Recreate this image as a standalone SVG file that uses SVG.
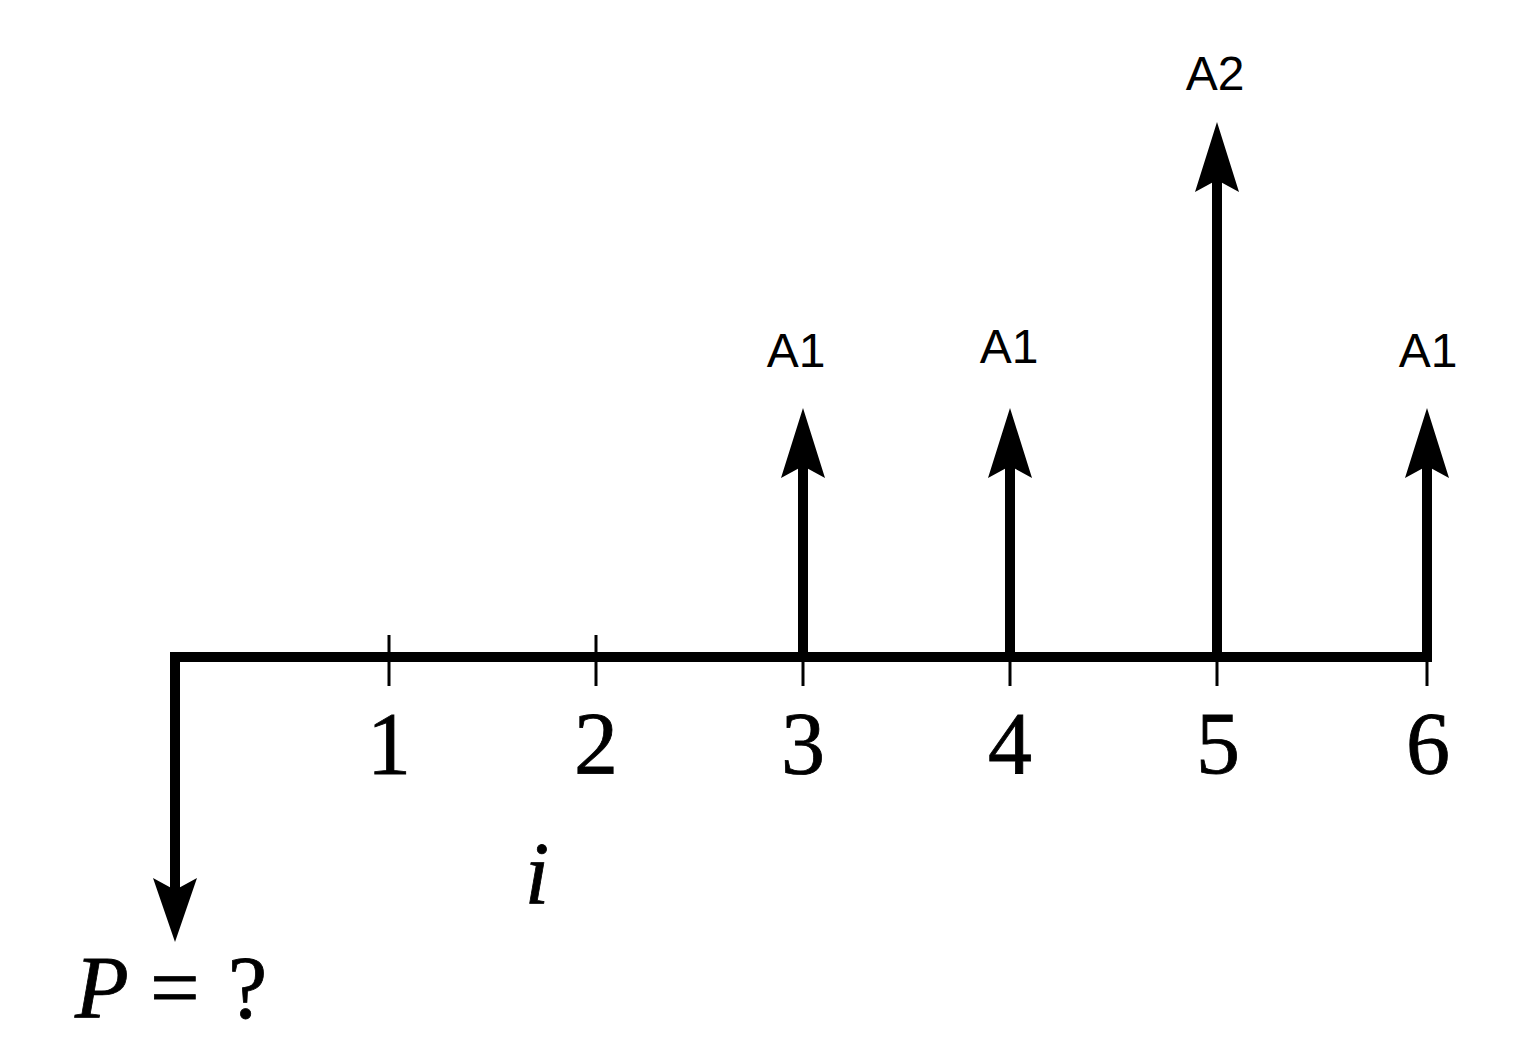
<svg xmlns="http://www.w3.org/2000/svg" width="1538" height="1050" viewBox="0 0 1538 1050">
<style>
.ax{stroke:#000;stroke-width:10;fill:none}
.tick{stroke:#000;stroke-width:3}
.head{fill:#000}
.num{font-family:"Liberation Serif","Times New Roman",serif;font-size:88px;fill:#000;text-anchor:middle;stroke:#000;stroke-width:0.8}
.lbl{font-family:"Liberation Sans",Arial,sans-serif;font-size:48px;fill:#000;text-anchor:middle}
.math{font-family:"Liberation Serif","Times New Roman",serif;font-size:88px;fill:#000;stroke:#000;stroke-width:0.8}
</style>
<defs>
<path id="ahUp" d="M0,0 L22,70 L0,58 L-22,70 Z" class="head"/>
</defs>
<rect width="1538" height="1050" fill="#fff"/>
<g id="connectors">
<path class="ax" d="M170,657 H1432"/>
<path class="ax" d="M175,652 V900"/>
<path d="M175,942 L153,878 L175,890 L197,878 Z" class="head"/>
<line class="tick" x1="389" y1="635" x2="389" y2="686"/>
<line class="tick" x1="596" y1="635" x2="596" y2="686"/>
<line class="tick" x1="803" y1="635" x2="803" y2="686"/>
<line class="tick" x1="1010" y1="635" x2="1010" y2="686"/>
<line class="tick" x1="1217" y1="635" x2="1217" y2="686"/>
<line class="tick" x1="1427" y1="635" x2="1427" y2="686"/>
<line class="ax" x1="803" y1="660" x2="803" y2="460"/>
<use href="#ahUp" x="803" y="408"/>
<line class="ax" x1="1010" y1="660" x2="1010" y2="460"/>
<use href="#ahUp" x="1010" y="408"/>
<line class="ax" x1="1217" y1="660" x2="1217" y2="175"/>
<use href="#ahUp" x="1217" y="122"/>
<line class="ax" x1="1427" y1="662" x2="1427" y2="460"/>
<use href="#ahUp" x="1427" y="408"/>
</g>
<g id="ticklabels">
<text class="num" x="389" y="773">1</text>
<text class="num" x="596" y="773">2</text>
<text class="num" x="803" y="773">3</text>
<text class="num" x="1010" y="773">4</text>
<text class="num" x="1218" y="773">5</text>
<text class="num" x="1428" y="773">6</text>
</g>
<g id="node-A1-3"><text class="lbl" x="796" y="367">A1</text></g>
<g id="node-A1-4"><text class="lbl" x="1009" y="363">A1</text></g>
<g id="node-A2-5"><text class="lbl" x="1215" y="90">A2</text></g>
<g id="node-A1-6"><text class="lbl" x="1428" y="367">A1</text></g>
<g id="node-i"><text class="math" x="537" y="903" font-style="italic" text-anchor="middle">i</text></g>
<g id="node-P">
<text class="math" x="75" y="1017" font-style="italic">P</text>
<text class="math" x="150" y="1017" font-size="96">=</text>
<text class="math" x="228" y="1017">?</text>
</g>
</svg>
